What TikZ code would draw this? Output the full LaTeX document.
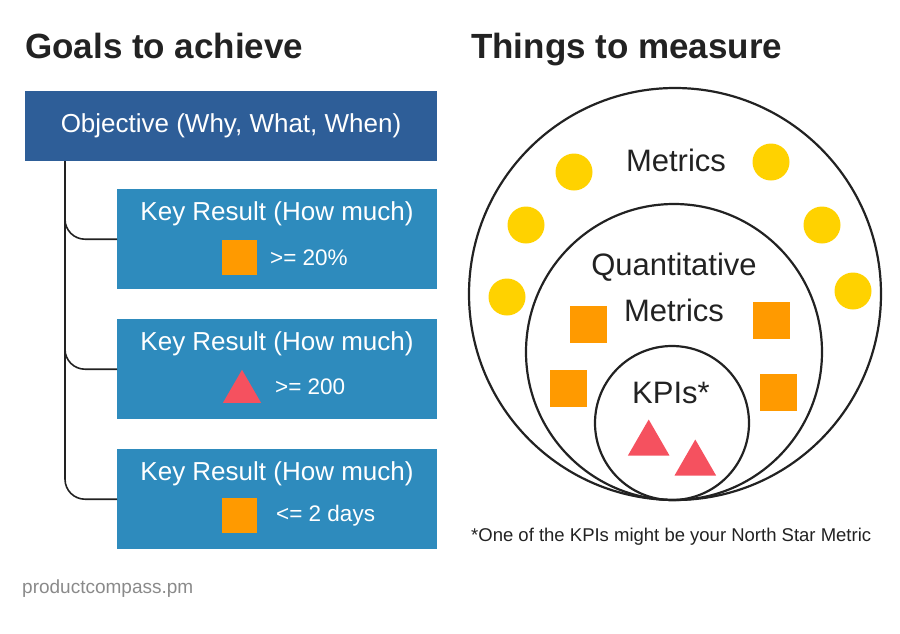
\documentclass[tikz,border=0pt]{standalone}
\usepackage{fontspec}
\setmainfont{Liberation Sans}
\usetikzlibrary{shapes.geometric}
\definecolor{objblue}{HTML}{2E5E98}
\definecolor{krblue}{HTML}{2E8BBD}
\definecolor{dot}{HTML}{FFD200}
\definecolor{sq}{HTML}{FF9A00}
\definecolor{tri}{HTML}{F5515F}
\definecolor{ink}{HTML}{222222}
\definecolor{wm}{HTML}{8A8A8A}
\tikzset{
  objbox/.style={fill=objblue, draw=none, minimum width=412pt, minimum height=70pt, inner sep=0pt, anchor=north west},
  krbox/.style={fill=krblue, draw=none, minimum width=320pt, minimum height=100pt, inner sep=0pt, anchor=north west},
  wtext/.style={text=white, inner sep=0pt, font=\fontsize{26}{30}\selectfont},
  vtext/.style={text=white, inner sep=0pt, anchor=west, font=\fontsize{22.5}{26}\selectfont},
  ctext/.style={text=ink, inner sep=0pt, font=\fontsize{31}{36}\selectfont},
  title/.style={text=ink, inner sep=0pt, anchor=base west, font=\fontsize{35}{40}\selectfont\bfseries},
  conn/.style={draw=ink, line width=1.6pt, rounded corners=20pt},
  ring/.style={draw=ink, line width=2.2pt},
  ydot/.style={circle, fill=dot, draw=none, minimum size=37pt, inner sep=0pt},
  osq/.style={rectangle, fill=sq, draw=none, minimum size=37pt, inner sep=0pt},
  rtri/.style={isosceles triangle, isosceles triangle apex angle=60, shape border rotate=90, fill=tri, draw=none, minimum height=36pt, inner sep=0pt, anchor=south}
}
\begin{document}
\begin{tikzpicture}[x=1pt,y=-1pt]
\useasboundingbox (0,0) rectangle (900,633);
% titles
\node[title] (t1) at (25,58) {Goals to achieve};
\node[title] (t2) at (471,58) {Things to measure};
% left tree
\node[objbox] (obj) at (25,91) {};
\node[wtext] (objt) at (231,126) {Objective (Why, What, When)};
\node[krbox] (kr1) at (117,189) {};
\node[krbox] (kr2) at (117,319) {};
\node[krbox] (kr3) at (117,449) {};
\node[wtext] (kr1t) at (277,214) {Key Result (How much)};
\node[wtext] (kr2t) at (277,344) {Key Result (How much)};
\node[wtext] (kr3t) at (277,474) {Key Result (How much)};
\node[osq, minimum size=35pt] (s1) at (239.5,257) {};
\node[vtext] (v1) at (270,258) {>= 20\%};
\node[rtri, minimum height=33pt] (tr1) at (242,403) {};
\node[vtext] (v2) at (275,387) {>= 200};
\node[osq, minimum size=35pt] (s2) at (239.5,515) {};
\node[vtext] (v3) at (276,516) {<= 2 days};
\coordinate (trunk) at (65,161);
\draw[conn] (trunk) |- (kr1.west);
\draw[conn] (trunk) |- (kr2.west);
\draw[conn] (trunk) |- (kr3.west);
% circles
\node[circle, ring, minimum size=412pt, inner sep=0pt] (outer) at (675,294) {};
\node[circle, ring, minimum size=296pt, inner sep=0pt] (mid) at (674,352) {};
\node[circle, ring, minimum size=154pt, inner sep=0pt] (inner) at (672,423) {};
\node[ctext] (m1) at (676,160) {Metrics};
\node[ctext] (q1) at (674,267) {Quantitative};
\node[ctext] (q2) at (674,310) {Metrics};
\node[ctext] (k1) at (671,393) {KPIs*};
% yellow dots
\node[ydot] (d1) at (574,172) {};
\node[ydot] (d2) at (771,162) {};
\node[ydot] (d3) at (526,225) {};
\node[ydot] (d4) at (822,225) {};
\node[ydot] (d5) at (507,297) {};
\node[ydot] (d6) at (853,291) {};
% orange squares
\node[osq] (o1) at (588,324) {};
\node[osq] (o2) at (771,320) {};
\node[osq] (o3) at (568,388) {};
\node[osq] (o4) at (778.5,392) {};
% red triangles
\node[rtri] (r1) at (648.7,455.7) {};
\node[rtri] (r2) at (695.3,475.7) {};
% footnote and watermark
\node[text=ink, inner sep=0pt, anchor=west, font=\fontsize{18.5}{22}\selectfont] (fn) at (471,537) {*One of the KPIs might be your North Star Metric};
\node[text=wm, inner sep=0pt, anchor=west, font=\fontsize{19}{22}\selectfont] (wmk) at (22,589) {productcompass.pm};
\end{tikzpicture}
\end{document}
